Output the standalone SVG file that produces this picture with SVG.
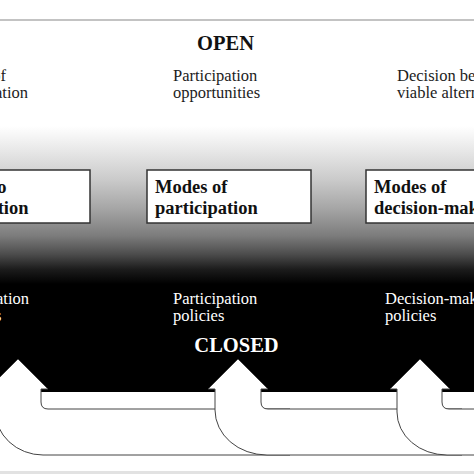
<svg xmlns="http://www.w3.org/2000/svg" width="474" height="474" viewBox="0 0 474 474">
<defs>
<linearGradient id="bg" gradientUnits="userSpaceOnUse" x1="0" y1="20" x2="0" y2="392">
<stop offset="0" stop-color="#ffffff"/>
<stop offset="0.285" stop-color="#ffffff"/>
<stop offset="0.35" stop-color="#e8e8e8"/>
<stop offset="0.43" stop-color="#cacaca"/>
<stop offset="0.51" stop-color="#a4a4a4"/>
<stop offset="0.58" stop-color="#7c7c7c"/>
<stop offset="0.63" stop-color="#4c4c4c"/>
<stop offset="0.67" stop-color="#1c1c1c"/>
<stop offset="0.71" stop-color="#000000"/>
<stop offset="1" stop-color="#000000"/>
</linearGradient>
<style>
.t{font-family:"Liberation Serif","Times New Roman",serif;font-size:16.5px;fill:#1c1c1c}
.w{font-family:"Liberation Serif","Times New Roman",serif;font-size:16.5px;fill:#ffffff}
.h{font-family:"Liberation Serif","Times New Roman",serif;font-size:20.5px;font-weight:bold}
.b{font-family:"Liberation Serif","Times New Roman",serif;font-size:18.5px;font-weight:bold;fill:#111}
.box{fill:#ffffff;stroke:#333;stroke-width:1.5}
.arr{fill:#ffffff;stroke:#444;stroke-width:1}
</style>
</defs>
<rect x="0" y="0" width="474" height="474" fill="#ffffff"/>
<rect x="0" y="20" width="474" height="372" fill="url(#bg)"/>
<line x1="0" y1="20" x2="474" y2="20" stroke="#888" stroke-width="1.2"/>
<rect x="0" y="471" width="474" height="3" fill="#e2e2e2"/>

<text class="h" x="225.5" y="50" text-anchor="middle" fill="#111">OPEN</text>
<text class="h" x="236.5" y="352" text-anchor="middle" fill="#ffffff">CLOSED</text>

<g id="col1">
<text class="t" x="6" y="81" text-anchor="end">Flow of</text>
<text class="t" x="28" y="97.5" text-anchor="end">information</text>
<rect class="box" x="-74" y="170" width="164" height="53"/>
<text class="b" x="-66" y="193">Access to</text>
<text class="b" x="-66" y="214">information</text>
<text class="w" x="29" y="304" text-anchor="end">Information</text>
<text class="w" x="-50" y="321">policies</text>
</g>

<g id="col2">
<text class="t" x="173" y="81">Participation</text>
<text class="t" x="173" y="97.5">opportunities</text>
<rect class="box" x="147" y="170" width="164" height="53"/>
<text class="b" x="155" y="193">Modes of</text>
<text class="b" x="155" y="214">participation</text>
<text class="w" x="173" y="304">Participation</text>
<text class="w" x="173" y="321">policies</text>
</g>

<g id="col3">
<text class="t" x="397" y="81">Decision between</text>
<text class="t" x="397" y="97.5">viable alternatives</text>
<rect class="box" x="366" y="170" width="164" height="53"/>
<text class="b" x="374" y="193">Modes of</text>
<text class="b" x="374" y="214">decision-making</text>
<text class="w" x="385" y="304">Decision-making</text>
<text class="w" x="385" y="321">policies</text>
</g>

<g id="connectors">
<path class="arr" d="M 18 359 L 48 389 L 41 389 L 41 402 Q 41 409 48 409 L 290 409 L 290 455 L 43 455 A 48 45 0 0 1 -5 410 L -5 389 L -12 389 Z"/>
<path class="arr" d="M 238 359 L 268 389 L 261 389 L 261 402 Q 261 409 268 409 L 462 409 L 462 455 L 267 455 A 52 45 0 0 1 215 410 L 215 389 L 208 389 Z"/>
<path class="arr" d="M 420 359 L 450 389 L 442 389 L 442 402 Q 442 409 449 409 L 480 409 L 480 455 L 447 455 A 50 43 0 0 1 397 412 L 397 389 L 390 389 Z"/>
</g>
</svg>
